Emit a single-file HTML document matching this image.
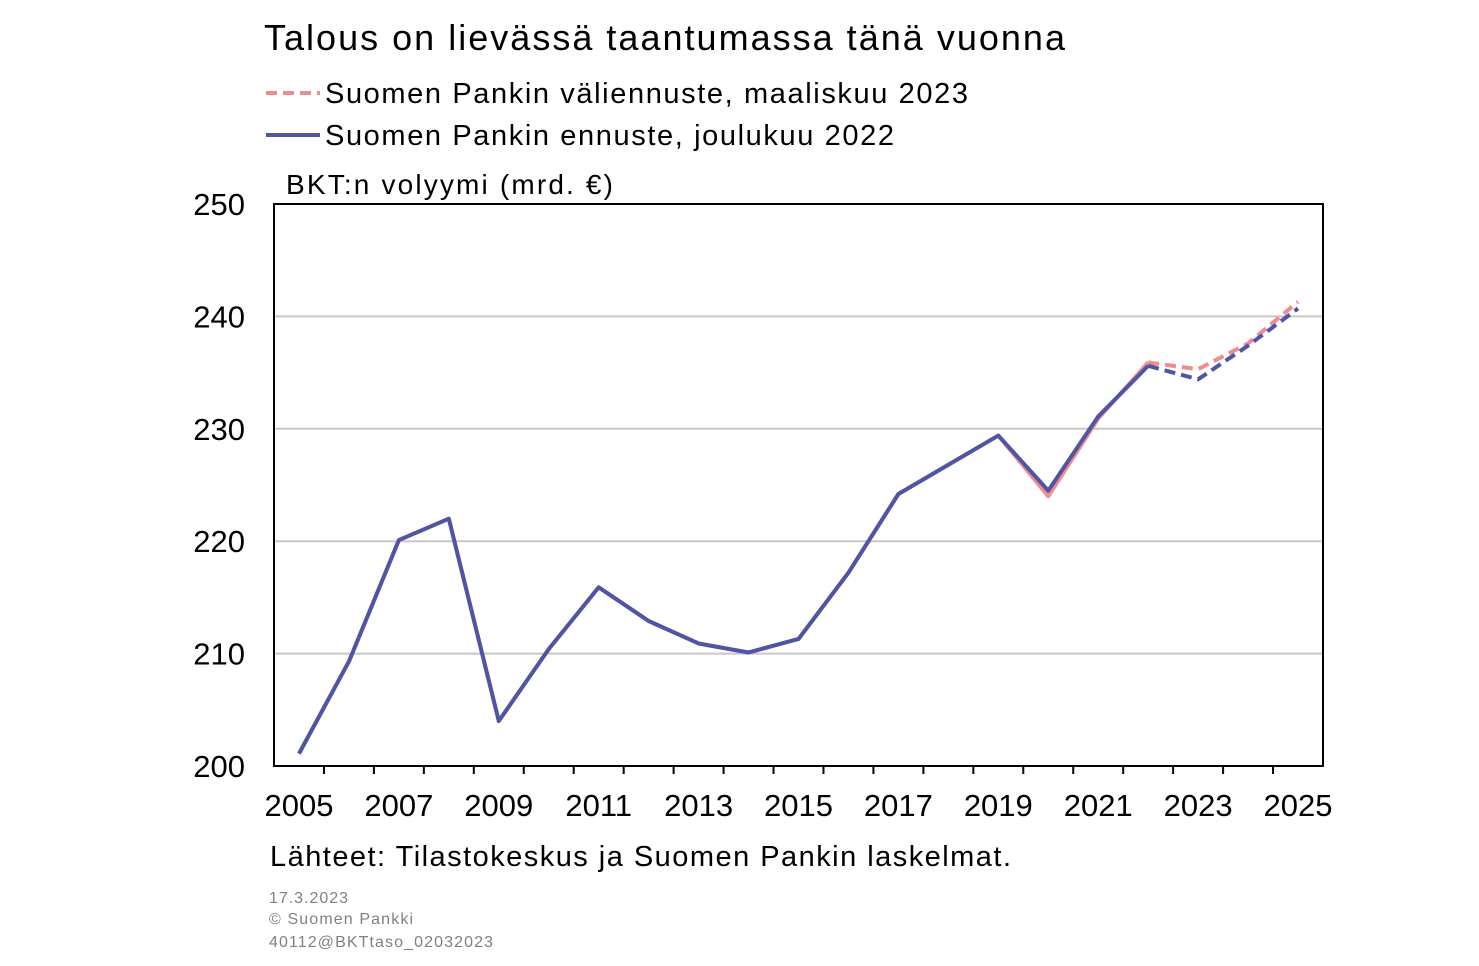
<!DOCTYPE html>
<html><head><meta charset="utf-8"><style>
body{margin:0;background:#fff;font-family:"Liberation Sans",sans-serif;}
svg{display:block}
</style></head><body>
<svg width="1479" height="966" xmlns="http://www.w3.org/2000/svg">
<text x="264" y="50" font-size="36" textLength="801" lengthAdjust="spacing" fill="#000">Talous on lievässä taantumassa tänä vuonna</text>
<g>
<line x1="266" y1="93" x2="320" y2="93" stroke="#f08c8f" stroke-width="4" stroke-dasharray="11,6"/>
<text x="325" y="103" font-size="29" textLength="643" lengthAdjust="spacing">Suomen Pankin väliennuste, maaliskuu 2023</text>
<line x1="266" y1="135" x2="320" y2="135" stroke="#4f55a5" stroke-width="4"/>
<text x="325" y="145" font-size="29" textLength="569" lengthAdjust="spacing">Suomen Pankin ennuste, joulukuu 2022</text>
</g>
<text x="286" y="194" font-size="28" textLength="327" lengthAdjust="spacing">BKT:n volyymi  (mrd. €)</text>
<g id="grid"></g>
<g id="series"></g>
<rect x="274" y="204" width="1049" height="562" fill="none" stroke="#000" stroke-width="2"/>
<g id="axes"></g>
<text x="270" y="866" font-size="29" textLength="741" lengthAdjust="spacing">Lähteet: Tilastokeskus ja Suomen Pankin laskelmat.</text>
<text x="269" y="903" font-size="16" textLength="79" lengthAdjust="spacing" fill="#808080">17.3.2023</text>
<text x="269" y="924" font-size="16" textLength="144" lengthAdjust="spacing" fill="#808080">© Suomen Pankki</text>
<text x="269" y="947" font-size="16" textLength="224" lengthAdjust="spacing" fill="#808080">40112@BKTtaso_02032023</text>
</svg>
<script>
const years=[2005,2006,2007,2008,2009,2010,2011,2012,2013,2014,2015,2016,2017,2018,2019,2020,2021,2022,2023,2024,2025];
const dec2022=[201.1,209.3,220.1,222.0,204.0,210.4,215.9,212.9,210.9,210.1,211.3,217.2,224.2,226.8,229.4,224.5,231.1,235.6,234.4,237.4,240.7];
const mar2023=[201.1,209.3,220.1,222.0,204.0,210.4,215.9,212.9,210.9,210.1,211.3,217.2,224.2,226.8,229.4,224.0,230.9,235.9,235.3,237.6,241.3];
const yTicks=[200,210,220,230,240,250];
const xLabels=[2005,2007,2009,2011,2013,2015,2017,2019,2021,2023,2025];
const forecastStart=2022;
const NS="http://www.w3.org/2000/svg";
const L=274,R=1323,T=204,B=766,yMin=200,yMax=250;
const bw=(R-L)/years.length;
const xs=i=>L+bw*(i+0.5);
const ys=v=>B-(v-yMin)/(yMax-yMin)*(B-T);
function mk(t,a,p){const e=document.createElementNS(NS,t);for(const k in a)e.setAttribute(k,a[k]);p.appendChild(e);return e;}
const grid=document.getElementById('grid'),axes=document.getElementById('axes'),ser=document.getElementById('series');
yTicks.forEach(v=>{
 if(v>yMin&&v<yMax){const g=mk('line',{x1:L,x2:R,y1:ys(v),y2:ys(v),stroke:'#c8c8c8','stroke-width':2},grid);
 
 }
 const t=mk('text',{x:245,y:ys(v)+11,'font-size':31,'text-anchor':'end'},axes);t.textContent=v;
 
 
});
for(let i=1;i<years.length;i++){const tk=mk('line',{x1:L+bw*i,x2:L+bw*i,y1:B,y2:B+8,stroke:'#000','stroke-width':2},axes);
 
 }
xLabels.forEach(y=>{const i=years.indexOf(y);const t=mk('text',{x:xs(i),y:816,'font-size':31,'text-anchor':'middle'},axes);t.textContent=y;
 
 });
function draw(vals,color,name){
 const k=years.indexOf(forecastStart);
 const pts=vals.map((v,i)=>xs(i)+','+ys(v));
 const a=mk('polyline',{points:pts.slice(0,k+1).join(' '),fill:'none',stroke:color,'stroke-width':4,'stroke-linejoin':'round'},ser);
 
 
 const b=mk('polyline',{points:pts.slice(k).join(' '),fill:'none',stroke:color,'stroke-width':4,'stroke-dasharray':'11,6'},ser);
 
 
}
draw(mar2023,'#f08c8f','march-2023');
draw(dec2022,'#4f55a5','december-2022');
</script>
</body></html>
